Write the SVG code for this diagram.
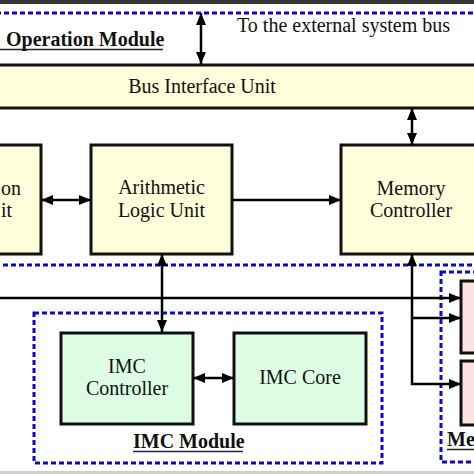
<svg xmlns="http://www.w3.org/2000/svg" width="474" height="474" viewBox="0 0 474 474">
<defs>
<style>
.t{font-family:"Liberation Serif","Times New Roman",serif;font-size:20px;fill:#111}
.b{font-weight:bold}
.m{text-anchor:middle}
.yel{fill:#FFFFDB;stroke:#111;stroke-width:3}
.grn{fill:#DCFCE4;stroke:#111;stroke-width:3}
.pnk{fill:#FCE3E3;stroke:#111;stroke-width:3}
.dash{fill:none;stroke:#0A0ACC;stroke-width:3;stroke-dasharray:5 3}
.ln{fill:none;stroke:#000;stroke-width:2.5}
.ul{stroke:#222;stroke-width:1.5}
</style>
<marker id="ah" viewBox="0 0 12 10" refX="12" refY="5" markerWidth="12" markerHeight="10" markerUnits="userSpaceOnUse" orient="auto-start-reverse">
<path d="M0,0 L12,5 L0,10 z" fill="#000"/>
</marker>
</defs>
<rect width="474" height="474" fill="#fff"/>
<rect x="0" y="0" width="474" height="4" fill="#363636"/>
<rect x="0" y="471" width="474" height="3" fill="#cfcfcf"/>

<g id="operation-module">
<rect class="dash" x="-20" y="13" width="520" height="252"/>
<text class="t b" x="6" y="46">Operation Module</text>
<line class="ul" x1="0" y1="49.5" x2="163" y2="49.5"/>
</g>
<text id="ext-label" class="t" x="237" y="32">To the external system bus</text>

<g id="bus-interface-unit">
<rect class="yel" x="-10" y="65" width="494" height="43"/>
<text class="t m" x="202" y="93">Bus Interface Unit</text>
</g>

<g id="left-unit">
<rect class="yel" x="-30" y="145" width="71" height="109"/>
<text class="t" x="1" y="195">on</text>
<text class="t" x="1" y="217">it</text>
</g>

<g id="alu">
<rect class="yel" x="91" y="145" width="141" height="109"/>
<text class="t m" x="161.5" y="194">Arithmetic</text>
<text class="t m" x="161.5" y="217">Logic Unit</text>
</g>

<g id="memory-controller">
<rect class="yel" x="341" y="145" width="150" height="109"/>
<text class="t m" x="411" y="195">Memory</text>
<text class="t m" x="411" y="217">Controller</text>
</g>

<g id="imc-module">
<rect class="dash" x="34" y="313" width="348" height="150"/>
<text class="t b" x="133" y="448">IMC Module</text>
<line class="ul" x1="133" y1="451.5" x2="243" y2="451.5"/>
</g>

<g id="imc-controller">
<rect class="grn" x="61" y="333" width="132" height="91"/>
<text class="t m" x="127" y="373">IMC</text>
<text class="t m" x="127" y="395">Controller</text>
</g>

<g id="imc-core">
<rect class="grn" x="234" y="333" width="132" height="91"/>
<text class="t m" x="300" y="384">IMC Core</text>
</g>

<g id="memory-module">
<rect class="dash" x="441" y="272" width="60" height="190"/>
<text class="t b" x="447" y="446">Me</text>
<line class="ul" x1="447" y1="449.5" x2="474" y2="449.5"/>
</g>

<g id="memory-block-1">
<rect class="pnk" x="461" y="281" width="40" height="72"/>
</g>
<g id="memory-block-2">
<rect class="pnk" x="461" y="361" width="40" height="64"/>
</g>

<g id="connectors">
<line class="ln" x1="201" y1="13" x2="201" y2="64" marker-start="url(#ah)" marker-end="url(#ah)"/>
<line class="ln" x1="412" y1="108" x2="412" y2="145" marker-start="url(#ah)" marker-end="url(#ah)"/>
<line class="ln" x1="41" y1="200" x2="91" y2="200" marker-start="url(#ah)" marker-end="url(#ah)"/>
<line class="ln" x1="232" y1="200" x2="341" y2="200" marker-end="url(#ah)"/>
<line class="ln" x1="162" y1="254" x2="162" y2="332" marker-start="url(#ah)" marker-end="url(#ah)"/>
<line class="ln" x1="0" y1="298" x2="461" y2="298" marker-end="url(#ah)"/>
<polyline class="ln" points="412,254 412,384 461,384" marker-start="url(#ah)" marker-end="url(#ah)"/>
<line class="ln" x1="412" y1="318" x2="461" y2="318" marker-end="url(#ah)"/>
<line class="ln" x1="193" y1="378" x2="234" y2="378" marker-start="url(#ah)" marker-end="url(#ah)"/>
</g>
</svg>
